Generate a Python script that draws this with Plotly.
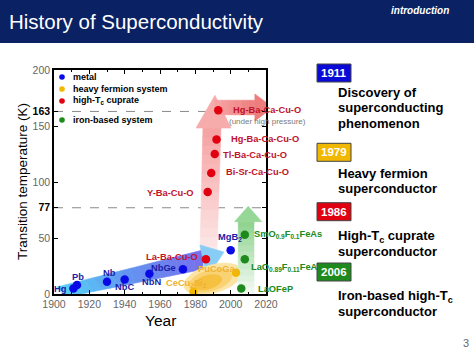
import numpy as np
import plotly.graph_objects as go

FONT = "Liberation Sans, Arial, sans-serif"

# ---------------- data ----------------
metal_names = ["Hg", "Pb", "Nb", "NbC", "NbN", "NbGe", "MgB<sub>2</sub>"]
metal_year = [1911, 1913, 1930, 1940, 1954, 1973, 2000]
metal_tc = [5, 8, 11, 13, 18, 22, 39]

heavy_names = ["CeCu<sub>2</sub>Si<sub>2</sub>", "PuCoGa<sub>5</sub>"]
heavy_year = [1979, 2003]
heavy_tc = [2, 19]

cuprate_names = ["La-Ba-Cu-O", "Y-Ba-Cu-O", "Bi-Sr-Ca-Cu-O", "Tl-Ba-Ca-Cu-O",
                 "Hg-Ba-Ca-Cu-O", "Hg-Ba-Ca-Cu-O"]
cuprate_year = [1986, 1987, 1989, 1991, 1992, 1993]
cuprate_tc = [31, 91, 108, 125, 138, 164]

iron_names = ["LaOFeP", "LaO<sub>0.89</sub>F<sub>0.11</sub>FeAs",
              "SmO<sub>0.9</sub>F<sub>0.1</sub>FeAs"]
iron_year = [2006, 2008, 2008]
iron_tc = [5, 31, 53]

ref_levels = [163, 77]
x_tick_vals = [1900, 1920, 1940, 1960, 1980, 2000, 2020]
y_tick_vals = [0, 50, 77, 100, 150, 163, 200]

legend_labels = ["metal", "heavy fermion system", "high-T<sub>c</sub> cuprate", "iron-based system"]
milestone_years = ["1911", "1979", "1986", "2006"]
milestone_text = [["Discovery of", "superconducting", "phenomenon"],
                  ["Heavy fermion", "superconductor"],
                  ["High-T<sub>c</sub> cuprate", "superconductor"],
                  ["Iron-based high-T<sub>c</sub>", "superconductor"]]

# ---------------- styles ----------------
C_METAL, C_HEAVY, C_CUP, C_IRON = "#0a0ae6", "#f2b800", "#e00010", "#1e8a1e"
T_METAL, T_HEAVY, T_CUP, T_IRON = "#1c1ca6", "#f0b232", "#c0142c", "#208a20"

metal_off = [("right", -4, -1), ("center", 1, 8), ("center", 2, 9), ("center", 0, -8),
             ("center", 2, -8.5), ("right", -5, 1), ("center", -1, 13)]
heavy_off = [("center", -7, 8), ("center", -17, 3)]
cup_off = [("right", -6, 2), ("right", -13, -1), ("left", 13, 1.5), ("left", 6, -0.5),
           ("left", 12, 0), ("left", 13, 0)]
iron_off = [("left", 15, -1), ("left", 4, -8), ("left", 7, 0.5)]

W, H = 474, 355
L, R, T, B = 54, 266, 70, 294
XR = (1900, 2020)
YR = (0, 200)


def pxx(x):
    return (x - L) / (R - L)


def pxy(y):
    return (B - y) / (B - T)


SX = (R - L) / (XR[1] - XR[0])  # px per year
SY = (B - T) / (YR[1] - YR[0])  # px per K

fig = go.Figure()

shapes = []
annotations = []


def path(pts):
    return "M " + " L ".join(f"{x:.3f},{y:.3f}" for x, y in pts) + " Z"


def poly(pts, color, layer="below"):
    shapes.append(dict(type="path", xref="x", yref="y", path=path(pts),
                       fillcolor=color, line=dict(color=color, width=0.6), layer=layer))


def mix(c1, c2, t):
    return "rgb(%d,%d,%d)" % tuple(round(a + (b - a) * t) for a, b in zip(c1, c2))


# reference dashed lines
for lv in ref_levels:
    shapes.append(dict(type="line", xref="x", yref="y", x0=XR[0], x1=XR[1], y0=lv, y1=lv,
                       line=dict(color="#8a8a8a", width=1, dash="dash"), layer="below"))

# ---- pink arrow (cuprates) ----
n = 14
for i in range(n):
    t0, t1 = i / n, (i + 1) / n
    def pl(t):
        return (1982.6 + (1984.3 - 1982.6) * t, 34.8 + (148.2 - 34.8) * t)
    def pr(t):
        return (1992.2 + (1994.5 - 1992.2) * t, 34.8 + (148.2 - 34.8) * t)
    c = mix((253, 236, 236), (246, 160, 160), (t0 + t1) / 2)
    poly([pl(t0), pl(t1), pr(t1), pr(t0)], c)
poly([(1980.4, 148.2), (1991.1, 177.5), (2000.2, 148.2)], "rgb(247,172,172)")
for i in range(6):
    x0 = 1991.1 + (2013.7 - 1991.1) * i / 6
    x1 = 1991.1 + (2013.7 - 1991.1) * (i + 1) / 6
    poly([(x0, 173.0), (x1, 173.0), (x1, 160.0), (x0, 160.0)],
         mix((246, 165, 165), (238, 125, 125), (i + 0.5) / 6))
poly([(2013.7, 178.6), (2023.9, 166.5), (2013.7, 154.5)], "rgb(238,125,125)")

# ---- blue arrow (metals) ----
n = 16
ux0, uy0, ux1, uy1 = 1901.7, 6.3, 1984.3, 39.3
lx0, ly0, lx1, ly1 = 1907.9, -2.4, 1984.3, 22.0
c_a, c_b, c_c = (85, 210, 245), (100, 145, 240), (118, 112, 236)
for i in range(n):
    t0, t1 = i / n, (i + 1) / n
    U = lambda t: (ux0 + (ux1 - ux0) * t, uy0 + (uy1 - uy0) * t)
    Lw = lambda t: (lx0 + (lx1 - lx0) * t, ly0 + (ly1 - ly0) * t)
    tm = (t0 + t1) / 2
    c = mix(c_a, c_b, tm / 0.5) if tm < 0.5 else mix(c_b, c_c, (tm - 0.5) / 0.5)
    poly([U(t0), U(t1), Lw(t1), Lw(t0)], c)
poly([(1982.6, 43.8), (1996.2, 37.5), (1986.6, 14.3)], "rgb(135,205,245)")

# ---- orange blob (heavy fermion) ----
blob_layers = [((1990.0, 13.5), 1.0, (252, 228, 165)),
               ((1988.5, 12.0), 0.74, (249, 210, 115)),
               ((1987.0, 10.5), 0.48, (246, 192, 65))]
for (cx, cy), scale, col in blob_layers:
    a, b, phi = 30 * scale, 14 * scale, np.radians(16)
    pts = []
    for th in np.linspace(0, 2 * np.pi, 60, endpoint=False):
        dx = a * np.cos(th) * np.cos(phi) - b * np.sin(th) * np.sin(phi)
        dy = a * np.cos(th) * np.sin(phi) + b * np.sin(th) * np.cos(phi)
        pts.append((cx + dx / SX, cy + dy / SY))
    poly(pts, "rgb(%d,%d,%d)" % col)

# ---- green arrow (iron-based) ----
n = 12
for i in range(n):
    t0, t1 = i / n, (i + 1) / n
    y0, y1 = 1 + 63.6 * t0, 1 + 63.6 * t1
    poly([(2004.3, y0), (2004.3, y1), (2013.2, y1), (2013.2, y0)],
         mix((244, 251, 244), (140, 210, 140), (t0 + t1) / 2))
poly([(2002.2, 64.6), (2009.9, 78.4), (2017.6, 64.6)], "rgb(150,214,150)")

# ---------------- data traces ----------------
for xs, ys, col in [(metal_year, metal_tc, C_METAL), (heavy_year, heavy_tc, C_HEAVY),
                    (cuprate_year, cuprate_tc, C_CUP), (iron_year, iron_tc, C_IRON)]:
    fig.add_trace(go.Scatter(x=xs, y=ys, mode="markers", cliponaxis=False,
                             marker=dict(size=8.5, color=col, line=dict(width=0)),
                             showlegend=False, hoverinfo="skip"))

# point labels
for names, xs, ys, offs, tcol in [(metal_names, metal_year, metal_tc, metal_off, T_METAL),
                                  (heavy_names, heavy_year, heavy_tc, heavy_off, T_HEAVY),
                                  (cuprate_names, cuprate_year, cuprate_tc, cup_off, T_CUP),
                                  (iron_names, iron_year, iron_tc, iron_off, T_IRON)]:
    for nm, x, y, (anc, xs_, ys_) in zip(names, xs, ys, offs):
        annotations.append(dict(x=x, y=y, xref="x", yref="y", text="<b>%s</b>" % nm,
                                showarrow=False, xanchor=anc, yanchor="middle",
                                xshift=xs_, yshift=ys_,
                                font=dict(family=FONT, size=9.3, color=tcol)))
annotations.append(dict(x=cuprate_year[-1], y=cuprate_tc[-1], xref="x", yref="y",
                        text="(under high pressure)", showarrow=False, xanchor="left",
                        yanchor="middle", xshift=9, yshift=-11,
                        font=dict(family=FONT, size=8, color="#7a7a7a")))

# ---------------- legend (inside plot) ----------------
leg_cols = [C_METAL, C_HEAVY, C_CUP, C_IRON]
leg_py = [77, 89, 101, 120]
for lab, col, yy in zip(legend_labels, leg_cols, leg_py):
    shapes.append(dict(type="circle", xref="paper", yref="paper", xsizemode="pixel",
                       ysizemode="pixel", xanchor=pxx(62), yanchor=pxy(yy),
                       x0=-2.8, x1=2.8, y0=-2.8, y1=2.8, fillcolor=col,
                       line=dict(width=0), layer="above"))
    annotations.append(dict(x=pxx(71), y=pxy(yy), xref="paper", yref="paper",
                            text="<b>%s</b>" % lab, showarrow=False, xanchor="left",
                            yanchor="middle", font=dict(family=FONT, size=9, color="#000")))

# ---------------- page decoration ----------------
shapes.append(dict(type="rect", xref="paper", yref="paper", x0=pxx(0), x1=pxx(W),
                   y0=pxy(43), y1=pxy(0), fillcolor="#0a2163", line=dict(width=0),
                   layer="above"))
annotations.append(dict(x=pxx(7), y=pxy(21.5), xref="paper", yref="paper",
                        text="History of Superconductivity", showarrow=False,
                        xanchor="left", yanchor="middle",
                        font=dict(family=FONT, size=20.5, color="white")))
annotations.append(dict(x=pxx(420), y=pxy(10), xref="paper", yref="paper",
                        text="<b><i>introduction</i></b>", showarrow=False,
                        xanchor="center", yanchor="middle",
                        font=dict(family=FONT, size=10, color="white")))

box_cols = ["#0a0ad8", "#f2b800", "#e00010", "#1e8a1e"]
box_cy = [73, 152.3, 211.7, 272]
text_lines_y = [[92.5, 108, 123.5], [173.3, 188.5], [236, 251.5], [296.5, 311.7]]
for yr, col, cyb, lines, lys in zip(milestone_years, box_cols, box_cy, milestone_text, text_lines_y):
    shapes.append(dict(type="rect", xref="paper", yref="paper", x0=pxx(317), x1=pxx(351),
                       y0=pxy(cyb + 9), y1=pxy(cyb - 9), fillcolor=col,
                       line=dict(color="#444", width=1), layer="above"))
    annotations.append(dict(x=pxx(334), y=pxy(cyb), xref="paper", yref="paper",
                            text="<b>%s</b>" % yr, showarrow=False, xanchor="center",
                            yanchor="middle", font=dict(family=FONT, size=11.5, color="white")))
    for ln, ly in zip(lines, lys):
        annotations.append(dict(x=pxx(336), y=pxy(ly), xref="paper", yref="paper",
                                text="<b>%s</b>" % ln, showarrow=False, xanchor="left",
                                yanchor="middle", font=dict(family=FONT, size=13, color="#000")))

annotations.append(dict(x=pxx(466), y=pxy(343), xref="paper", yref="paper", text="3",
                        showarrow=False, xanchor="center", yanchor="middle",
                        font=dict(family=FONT, size=11, color="#666")))

# axis titles
annotations.append(dict(x=pxx(160), y=pxy(320), xref="paper", yref="paper", text="Year",
                        showarrow=False, xanchor="center", yanchor="middle",
                        font=dict(family=FONT, size=15.5, color="#000")))
annotations.append(dict(x=pxx(22), y=pxy(182), xref="paper", yref="paper",
                        text="Transition temperature (K)", showarrow=False, textangle=-90,
                        xanchor="center", yanchor="middle",
                        font=dict(family=FONT, size=13.5, color="#000")))

y_tick_text = []
for v in y_tick_vals:
    if v in ref_levels:
        y_tick_text.append("<b><span style='color:#000'>%d</span></b>" % v)
    else:
        y_tick_text.append(str(v))

fig.update_layout(
    width=W, height=H,
    margin=dict(l=L, r=W - R, t=T, b=H - B, pad=0),
    paper_bgcolor="white", plot_bgcolor="white",
    showlegend=False,
    shapes=shapes, annotations=annotations,
    font=dict(family=FONT),
    xaxis=dict(range=list(XR), tickvals=x_tick_vals, ticks="inside", ticklen=4,
               tickcolor="#000", showline=True, linecolor="#000", linewidth=1.5,
               mirror="ticks", showgrid=False, zeroline=False,
               tickfont=dict(family=FONT, size=10.5, color="#666"),
               minor=dict(dtick=10, ticks="inside", ticklen=2.5, tickcolor="#000")),
    yaxis=dict(range=list(YR), tickvals=y_tick_vals, ticktext=y_tick_text,
               ticks="inside", ticklen=4, tickcolor="#000", showline=True,
               linecolor="#000", linewidth=1.5, mirror="ticks", showgrid=False,
               zeroline=False, tickfont=dict(family=FONT, size=10.5, color="#666")),
)

fig.write_html("out.html", config={"displayModeBar": False},
               post_script="document.body.style.margin='0';document.body.style.overflow='hidden';")
